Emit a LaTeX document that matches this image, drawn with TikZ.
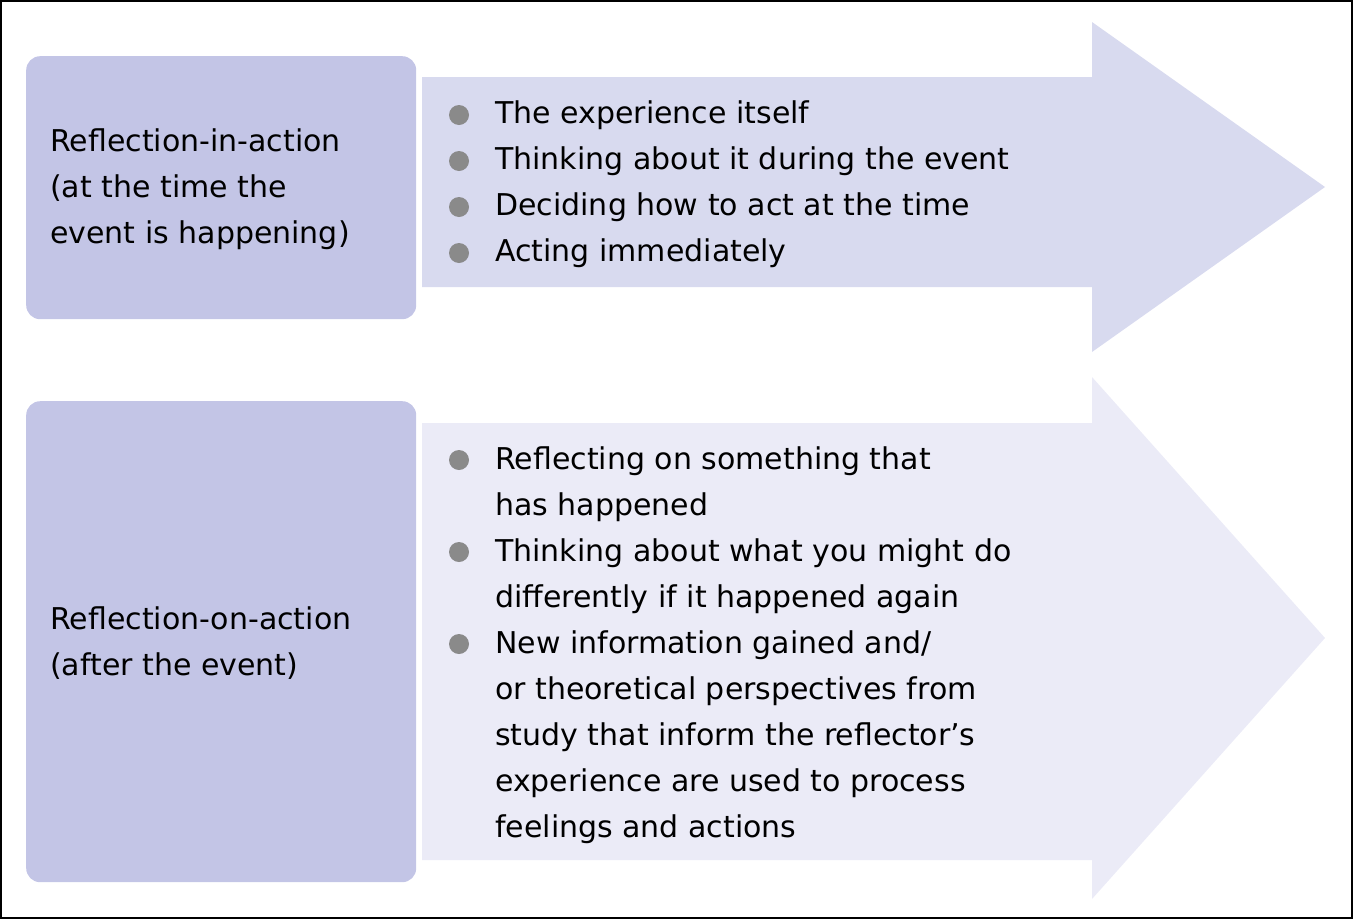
\documentclass[tikz,border=0pt]{standalone}
\usepackage{fontspec}
\setmainfont{DejaVu Sans}
\definecolor{boxc}{HTML}{C3C5E6}
\definecolor{arr1}{HTML}{D8DAEF}
\definecolor{arr2}{HTML}{EBEBF7}
\definecolor{bul}{HTML}{8A8A8A}
\tikzset{lbox/.style={fill=boxc,rounded corners=14pt,draw=none},
 txt/.style={anchor=west,inner sep=0pt,font=\fontsize{30}{46}\selectfont,align=left},
 bulc/.style={circle,fill=bul,minimum size=20pt,inner sep=0pt}}
\begin{document}
\begin{tikzpicture}[x=1pt,y=-1pt]
\draw[line width=2pt] (1,1) rectangle (1352,918);
\fill[arr1] (422,77) -- (1092,77) -- (1092,22) -- (1325,187) -- (1092,352) -- (1092,287) -- (422,287) -- cycle;
\fill[arr2] (422,423) -- (1092,423) -- (1092,377) -- (1325,638) -- (1092,899) -- (1092,860) -- (422,860) -- cycle;
\node[lbox,minimum width=390pt,minimum height=263pt,anchor=north west] (b1) at (26,56) {};
\node[lbox,minimum width=390pt,minimum height=481pt,anchor=north west] (b2) at (26,401) {};
\node[txt] (t1) at (50,189) {Reflection-in-action\\(at the time the\\event is happening)};
\node[txt] (t2) at (50,643) {Reflection-on-action\\(after the event)};
\foreach \y/\s [count=\i] in {115/The experience itself,161/Thinking about it during the event,207/Deciding how to act at the time,253/Acting immediately}{
 \node[bulc] (p\i) at (459,\y) {};
 \node[txt] (q\i) at (495,\y) {\s};}
\node[bulc] (r1) at (459,460) {};
\node[txt,anchor=north west] (s1) at (495,446) {Reflecting on something that\\has happened};
\node[bulc] (r2) at (459,552) {};
\node[txt,anchor=north west] (s2) at (495,538) {Thinking about what you might do\\differently if it happened again};
\node[bulc] (r3) at (459,644) {};
\node[txt,anchor=north west] (s3) at (495,630) {New information gained and/\\or theoretical perspectives from\\study that inform the reflector’s\\experience are used to process\\feelings and actions};
\end{tikzpicture}
\end{document}
